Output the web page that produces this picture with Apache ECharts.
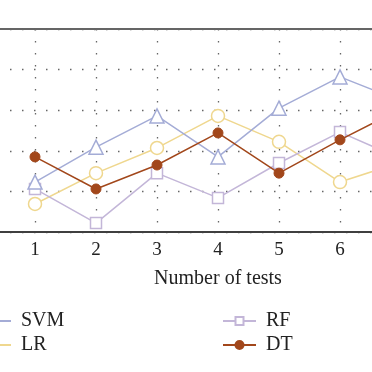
<!DOCTYPE html>
<html>
<head>
<meta charset="utf-8">
<script src="https://cdn.jsdelivr.net/npm/echarts@6/dist/echarts.min.js"></script>
<style>html,body{margin:0;padding:0;background:#fff;}#c{width:372px;height:372px;}</style>
</head>
<body>
<div id="c"></div>
<script>
const tests = [1, 2, 3, 4, 5, 6, 7];
const svm = [1.23, 2.09, 2.86, 1.85, 3.05, 3.82, 3.23];
const lr  = [0.69, 1.45, 2.07, 2.86, 2.22, 1.23, 1.72];
const rf  = [1.06, 0.22, 1.45, 0.84, 1.70, 2.46, 1.80];
const dt  = [1.85, 1.06, 1.65, 2.44, 1.45, 2.27, 3.03];
const xTickLabels = ['1', '2', '3', '4', '5', '6', '7'];

const pair = arr => tests.map((t, i) => [t, arr[i]]);
const serif = 'Liberation Serif';
const dotted = { color: '#666', width: 1.3, type: [1.5, 10.5] };

const chart = echarts.init(document.getElementById('c'), null, { renderer: 'canvas' });
chart.setOption({
  animation: false,
  backgroundColor: '#fff',
  grid: { left: -26, right: -90, top: 29, bottom: 140, containLabel: false, outerBoundsMode: 'none',
    show: true, borderColor: '#333', borderWidth: 1.5, backgroundColor: 'transparent' },
  xAxis: {
    type: 'value', min: 0, max: 8, interval: 1,
    name: 'Number of tests', nameLocation: 'middle', nameGap: 37,
    nameTextStyle: { fontFamily: serif, fontSize: 20, color: '#222' },
    axisLine: { show: true, lineStyle: { color: '#333', width: 1.5 } },
    axisTick: { show: false },
    axisLabel: {
      margin: 9, fontFamily: serif, fontSize: 19, color: '#222',
      formatter: v => { const i = tests.indexOf(v); return i >= 0 ? xTickLabels[i] : ''; }
    },
    splitLine: { show: true, lineStyle: dotted }
  },
  yAxis: {
    type: 'value', min: 0, max: 5, interval: 1,
    axisLine: { show: false }, axisTick: { show: false }, axisLabel: { show: false },
    splitLine: { show: true, lineStyle: dotted }
  },
  legend: [
    { data: ['SVM', 'LR'], orient: 'vertical', left: -28, top: 304, itemWidth: 33, itemHeight: 10, itemGap: 0,
      textStyle: { fontFamily: serif, fontSize: 20, color: '#222', lineHeight: 24, padding: [0, 0, 0, 5] } },
    { data: ['RF', 'DT'], orient: 'vertical', left: 217, top: 304, itemWidth: 33, itemHeight: 10, itemGap: 0,
      textStyle: { fontFamily: serif, fontSize: 20, color: '#222', lineHeight: 24, padding: [0, 0, 0, 5] } }
  ],
  series: [
    { name: 'SVM', type: 'line', data: pair(svm), symbol: 'triangle', symbolSize: 14,
      color: '#a4acd6', itemStyle: { color: '#fff', borderColor: '#a4acd6', borderWidth: 1.5 },
      lineStyle: { color: '#a4acd6', width: 1.5 }, z: 3 },
    { name: 'LR', type: 'line', data: pair(lr), symbol: 'circle', symbolSize: 13,
      color: '#efd78e', itemStyle: { color: '#fff', borderColor: '#efd78e', borderWidth: 1.5 },
      lineStyle: { color: '#efd78e', width: 1.5 }, z: 2 },
    { name: 'RF', type: 'line', data: pair(rf), symbol: 'rect', symbolSize: 11,
      color: '#c3b6d8', itemStyle: { color: '#fff', borderColor: '#c3b6d8', borderWidth: 1.5 },
      lineStyle: { color: '#c3b6d8', width: 1.5 }, z: 2 },
    { name: 'DT', type: 'line', data: pair(dt), symbol: 'circle', symbolSize: 10,
      color: '#a2471b', itemStyle: { color: '#a2471b', borderColor: '#a2471b', borderWidth: 1 },
      lineStyle: { color: '#a2471b', width: 1.5 }, z: 4 }
  ]
});
</script>
</body>
</html>
